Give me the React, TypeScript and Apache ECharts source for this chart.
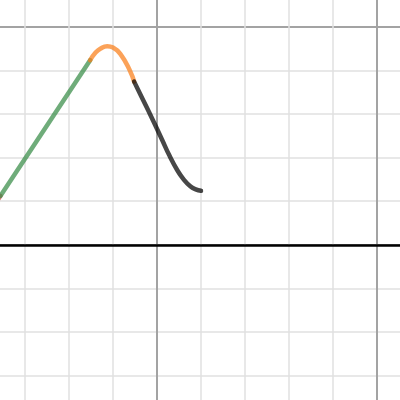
import React, { useEffect, useRef } from 'react';
import * as echarts from 'echarts';

// curve pieces (x, y in graph units)
const redX = [1.35, 1.44];
const redY = [0.99, 1.12];

const greenX = [1.44, 3.48];
const greenY = [1.12, 4.23];

const orangeX = [3.48, 3.6, 3.72, 3.87, 4.0, 4.17, 4.39, 4.48];
const orangeY = [4.23, 4.4, 4.5, 4.55, 4.52, 4.37, 3.98, 3.74];

const blackX = [4.48, 4.62, 4.91, 5.11, 5.28, 5.455, 5.605, 5.757, 5.88, 6.0];
const blackY = [3.74, 3.45, 2.85, 2.42, 2.05, 1.72, 1.5, 1.34, 1.27, 1.237];

const xMin = 0;
const xMax = 11;
const yMin = -5;
const yMax = 6;

const zip = (xs: number[], ys: number[]) => xs.map((x, i) => [x, ys[i]]);

const curve = (name: string, xs: number[], ys: number[], color: string, smooth: number | boolean) => ({
  name,
  type: 'line' as const,
  data: zip(xs, ys),
  smooth,
  showSymbol: false,
  symbol: 'none',
  lineStyle: { color, width: 4.5, opacity: 0.72, cap: 'round' as const, join: 'round' as const },
  z: 5,
});

export default function App() {
  const ref = useRef<HTMLDivElement>(null);

  useEffect(() => {
    if (!ref.current) return;
    const chart = echarts.init(ref.current, undefined, { renderer: 'svg' });

    const hidden = { axisLabel: { show: false }, axisTick: { show: false }, axisLine: { show: false } };

    chart.setOption({
      animation: false,
      backgroundColor: '#ffffff',
      grid: { left: 0, top: 0, right: 0, bottom: 0 },
      xAxis: [
        {
          type: 'value', min: xMin, max: xMax, interval: 1, ...hidden,
          splitLine: { show: true, lineStyle: { color: '#e0e0e0', width: 1.5 } },
        },
        {
          type: 'value', min: xMin, max: xMax, interval: 5, ...hidden,
          splitLine: { show: true, lineStyle: { color: '#a3a3a3', width: 2 } },
        },
      ],
      yAxis: [
        {
          type: 'value', min: yMin, max: yMax, interval: 1, ...hidden,
          splitLine: { show: true, lineStyle: { color: '#e0e0e0', width: 1.5 } },
        },
        {
          type: 'value', min: yMin, max: yMax, interval: 5, ...hidden,
          splitLine: { show: true, lineStyle: { color: '#a3a3a3', width: 2 } },
        },
      ],
      series: [
        {
          type: 'line',
          data: [],
          markLine: {
            silent: true,
            symbol: 'none',
            label: { show: false },
            lineStyle: { color: '#000000', width: 2.7, type: 'solid' },
            data: [{ yAxis: 0 }],
          },
          z: 3,
        },
        curve('red', redX, redY, '#c74440', false),
        curve('green', greenX, greenY, '#388c46', false),
        curve('orange', orangeX, orangeY, '#fa7e19', 0.5),
        curve('black', blackX, blackY, '#000000', 0.5),
      ],
    });

    return () => chart.dispose();
  }, []);

  // the graph window is larger than the view; the outer box crops it to 400x400
  return (
    <div style={{ position: 'absolute', left: 0, top: 0, width: 400, height: 400, overflow: 'hidden', background: '#fff' }}>
      <div ref={ref} style={{ position: 'absolute', left: -63.3, top: -17, width: 484, height: 480.3 }} />
    </div>
  );
}
